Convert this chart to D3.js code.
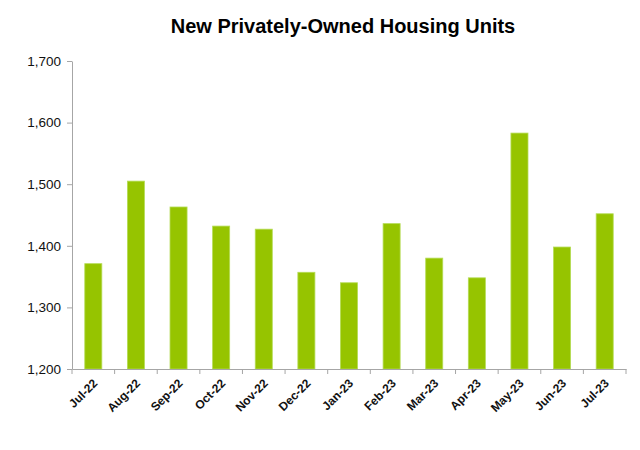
<!DOCTYPE html>
<html>
<head>
<meta charset="utf-8">
<script src="https://cdn.jsdelivr.net/npm/d3@7/dist/d3.min.js"></script>
<style>
body { margin: 0; background: #fff; }
svg { font-family: "Liberation Sans", Arial, sans-serif; }
</style>
</head>
<body>
<svg id="chart" width="640" height="450"></svg>
<script>
var months = ['Jul-22','Aug-22','Sep-22','Oct-22','Nov-22','Dec-22','Jan-23','Feb-23','Mar-23','Apr-23','May-23','Jun-23','Jul-23'];
var units = [1371, 1505, 1463, 1432, 1427, 1357, 1340, 1436, 1380, 1348, 1583, 1398, 1452];
var yTicks = [1200, 1300, 1400, 1500, 1600, 1700];

var plotLeft = 72, plotRight = 626, plotTop = 61, plotBottom = 369;
var svg = d3.select("#chart");

var x = d3.scaleBand().domain(months).range([plotLeft, plotRight]).padding(0);
var y = d3.scaleLinear().domain([1200, 1700]).range([plotBottom, plotTop]);
var barW = x.bandwidth() * 0.4;

svg.append("text")
    .attr("x", 343).attr("y", 33)
    .attr("text-anchor", "middle")
    .style("font-size", "20px").style("font-weight", "bold")
    .text("New Privately-Owned Housing Units");

svg.selectAll("rect.bar")
    .data(months)
    .enter()
    .append("rect")
    .attr("class", "bar")
    .attr("x", function(d) { return x(d) + (x.bandwidth() - barW) / 2; })
    .attr("y", function(d, i) { return y(units[i]); })
    .attr("width", barW)
    .attr("height", function(d, i) { return plotBottom - y(units[i]); })
    .style("fill", "#96c400")
    .style("stroke", "#b5dc55")
    .style("stroke-width", 0.8);

// y axis
var ya = svg.append("g")
    .attr("transform", "translate(" + plotLeft + ",0)")
    .call(d3.axisLeft(y).tickValues(yTicks).tickSize(5).tickSizeOuter(0).tickPadding(6)
        .tickFormat(d3.format(",")));
ya.select(".domain").attr("stroke", "#a6a6a6");
ya.selectAll(".tick line").attr("stroke", "#a6a6a6");
ya.selectAll("text").style("font-size", "13.5px").attr("fill", "#111").attr("font-family", "Liberation Sans, Arial, sans-serif");

// x axis
var xa = svg.append("g")
    .attr("transform", "translate(0," + plotBottom + ")")
    .call(d3.axisBottom(x).tickSize(0).tickSizeOuter(0));
xa.select(".domain").attr("stroke", "#a6a6a6");
xa.selectAll(".tick line").remove();
var edges = months.map(function(d) { return x(d); }).concat([plotRight]);
xa.selectAll("line.edge")
    .data(edges)
    .enter()
    .append("line")
    .attr("class", "edge")
    .attr("x1", function(d) { return d; }).attr("x2", function(d) { return d; })
    .attr("y1", 0).attr("y2", 5)
    .attr("stroke", "#a6a6a6");
xa.selectAll(".tick text")
    .attr("text-anchor", "end")
    .attr("dy", 0).attr("y", 0)
    .attr("transform", "translate(5,15) rotate(-45)")
    .style("font-size", "12px").style("font-weight", "bold")
    .attr("fill", "#111").attr("font-family", "Liberation Sans, Arial, sans-serif");
</script>
</body>
</html>
